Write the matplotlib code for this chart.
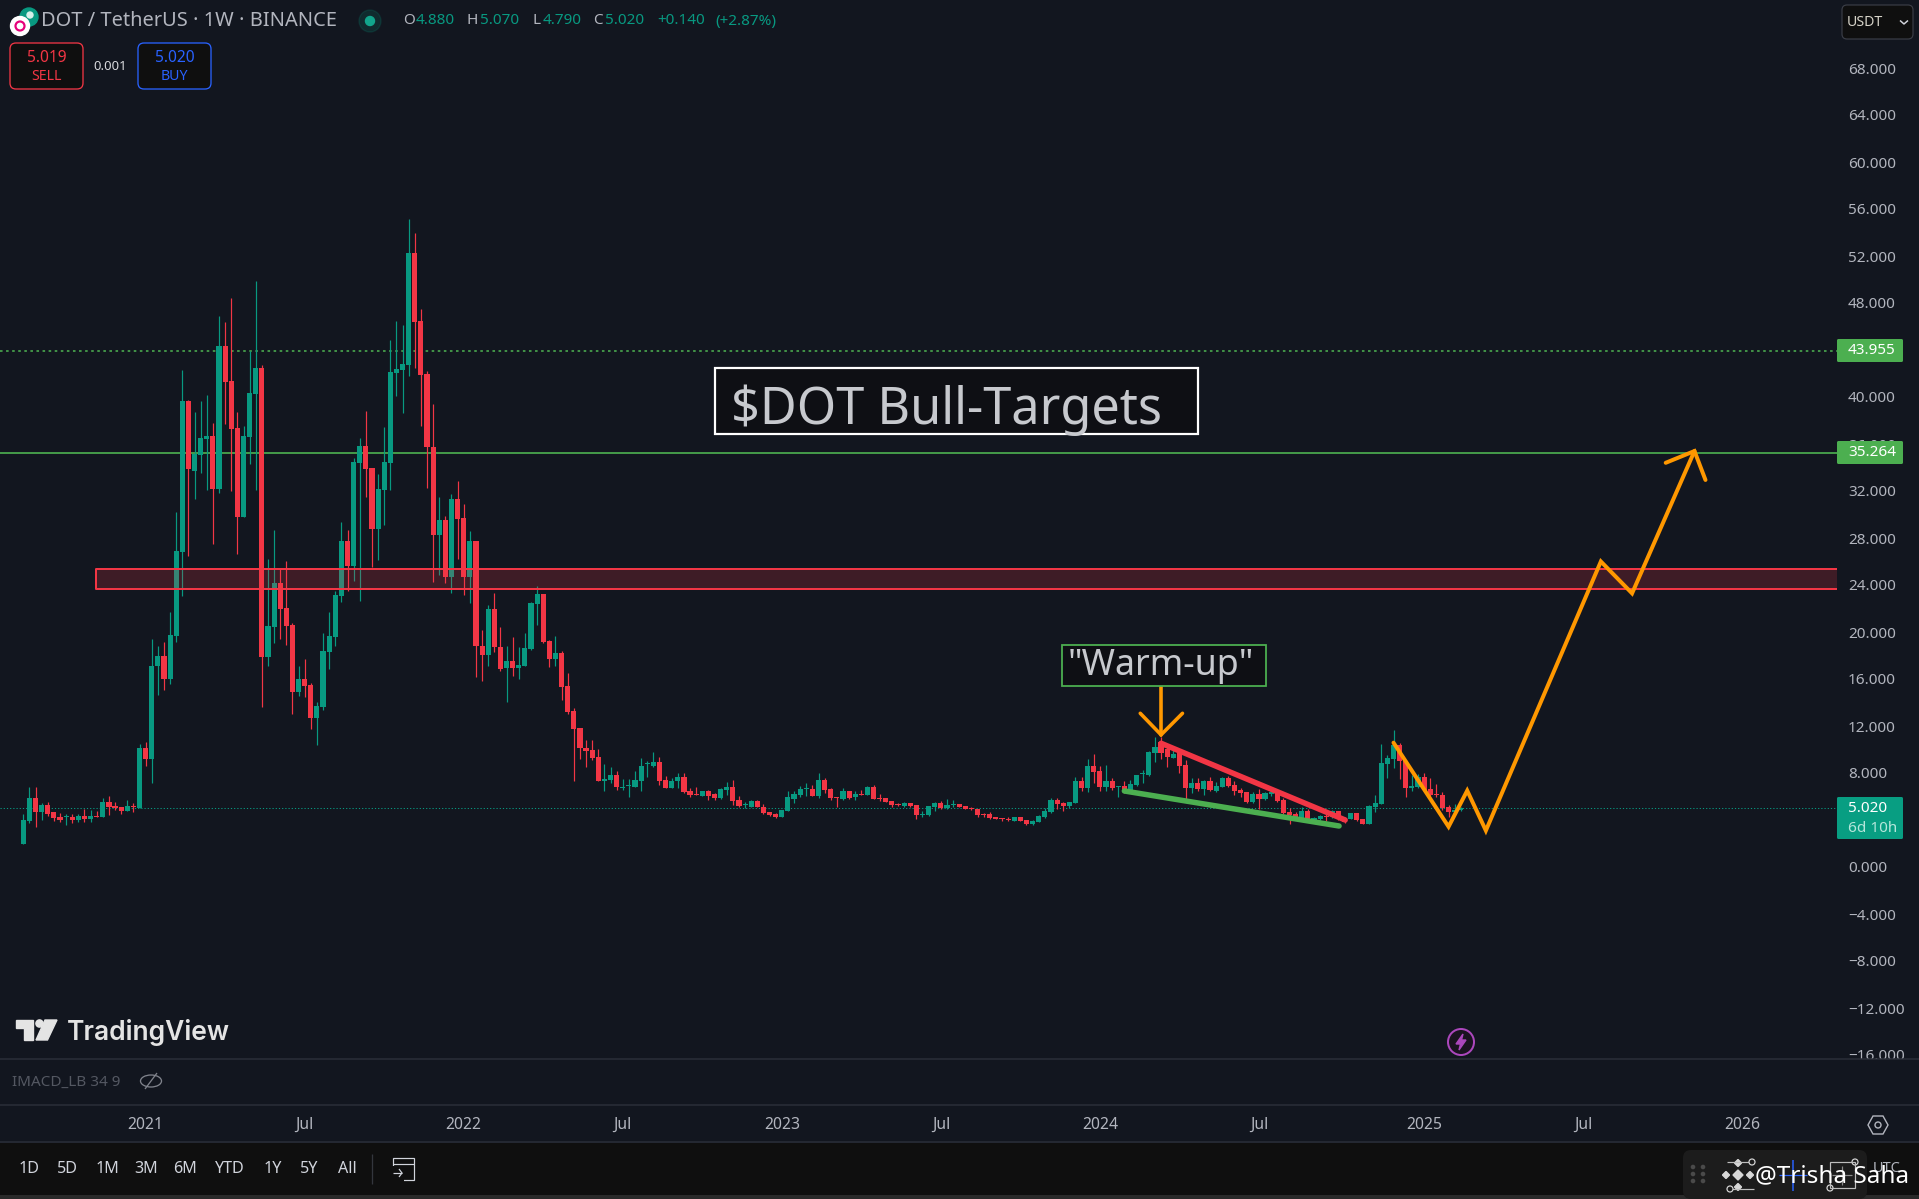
#!/usr/bin/env python3
"""Weekly DOT/USDT candles with drawn bull targets, TradingView dark look."""

import matplotlib
matplotlib.use("Agg")
import matplotlib.pyplot as plt
from matplotlib.patches import Circle, Ellipse, FancyBboxPatch, Polygon, Rectangle

W, H = 1919, 1199
PX = 0.72  # one pixel in points at dpi 100

BG = "#12161f"
BAR_BG = "#0f0f0f"
UP = "#089981"
DOWN = "#f23645"
GREEN = "#4caf50"
ORANGE = "#ff9800"
GREY = "#b2b5be"
DIVIDER = "#2a2e39"

# weekly candles
opens = [
    1.97, 3.90, 5.87, 4.72, 5.26, 4.65, 4.26, 4.22, 4.22, 4.01,
    4.33, 4.08, 4.37, 4.26, 5.55, 5.15, 5.12, 4.76, 5.19, 5.01,
    10.13, 9.20, 17.08, 17.98, 16.01, 19.66, 26.82, 39.65, 33.74, 35.06,
    36.42, 36.68, 32.16, 44.34, 41.37, 37.32, 29.80, 36.60, 40.26, 42.48,
    17.87, 20.45, 24.17, 22.06, 20.59, 14.86, 16.01, 15.51, 12.64, 13.61,
    18.30, 19.59, 23.10, 27.76, 25.61, 34.38, 35.85, 33.92, 28.76, 32.09,
    34.38, 42.05, 42.30, 42.73, 52.29, 46.49, 41.98, 35.74, 28.29, 29.55,
    24.71, 31.34, 29.73, 24.64, 27.76, 18.80, 18.05, 21.95, 18.73, 16.90,
    17.55, 16.94, 17.12, 18.55, 22.38, 23.24, 19.23, 17.73, 18.23, 15.40,
    13.28, 11.85, 10.13, 9.95, 9.38, 7.34, 7.41, 7.84, 6.73, 6.87,
    6.84, 7.32, 8.74, 8.59, 8.94, 7.40, 6.72, 7.32, 7.66, 6.50,
    6.18, 6.04, 6.50, 6.24, 5.84, 6.55, 6.84, 5.70, 5.28, 5.13,
    5.62, 5.11, 4.68, 4.51, 4.25, 4.77, 5.79, 6.10, 6.61, 6.64,
    6.01, 7.40, 6.64, 5.96, 5.76, 6.47, 5.93, 6.21, 6.13, 6.81,
    5.90, 5.87, 5.62, 5.36, 5.16, 5.47, 5.28, 4.45, 4.42, 5.11,
    5.45, 5.02, 5.28, 5.36, 5.19, 5.02, 4.91, 4.48, 4.51, 4.23,
    4.17, 4.08, 3.94, 4.23, 3.97, 3.66, 3.86, 4.25, 4.68, 5.67,
    5.44, 5.22, 5.47, 7.29, 6.72, 8.62, 8.17, 6.78, 7.32, 6.84,
    6.89, 6.55, 6.98, 7.89, 7.83, 9.70, 10.61, 10.04, 9.27, 9.67,
    8.68, 6.72, 7.15, 6.61, 7.32, 6.49, 6.84, 7.57, 6.98, 6.55,
    6.35, 5.50, 6.21, 5.79, 6.21, 6.35, 5.70, 4.68, 4.51, 4.20,
    4.79, 4.00, 4.08, 4.31, 4.23, 4.74, 4.14, 4.08, 4.57, 4.08,
    3.69, 5.11, 5.39, 8.76, 9.22, 10.38, 9.05, 6.69, 6.78, 7.63,
    6.64, 6.21, 6.13, 5.11, 4.72, 4.88,
]
highs = [
    4.54, 6.84, 6.84, 5.48, 5.55, 4.65, 4.62, 4.47, 4.47, 4.47,
    4.94, 4.83, 4.76, 5.91, 6.05, 5.55, 5.12, 5.69, 5.48, 10.49,
    10.67, 19.41, 18.80, 19.16, 21.74, 30.23, 42.33, 39.72, 38.75, 39.65,
    40.19, 37.79, 46.92, 46.38, 48.46, 38.75, 37.53, 43.95, 49.89, 42.73,
    26.22, 28.65, 25.36, 26.07, 20.77, 17.12, 17.73, 15.65, 14.07, 19.88,
    21.74, 23.46, 29.37, 28.69, 34.85, 36.53, 38.82, 33.92, 33.42, 37.43,
    44.84, 46.45, 46.10, 55.19, 53.98, 47.49, 42.19, 39.40, 31.48, 29.83,
    31.77, 32.88, 30.91, 28.58, 27.76, 20.16, 22.31, 23.28, 20.41, 18.80,
    19.59, 18.73, 19.88, 22.56, 23.92, 23.24, 19.30, 19.70, 18.37, 16.47,
    13.50, 11.85, 10.85, 10.81, 10.02, 8.77, 8.52, 8.16, 7.48, 7.45,
    8.13, 9.25, 9.02, 9.76, 9.39, 7.74, 7.55, 7.97, 8.03, 6.69,
    6.84, 6.50, 6.55, 6.30, 6.75, 7.26, 7.40, 6.04, 5.56, 5.70,
    5.70, 5.33, 4.68, 4.57, 4.85, 6.50, 6.47, 6.92, 7.18, 6.98,
    7.97, 7.60, 6.75, 5.96, 6.69, 6.47, 6.50, 6.55, 6.86, 6.98,
    6.21, 5.87, 5.62, 5.42, 5.53, 5.47, 5.28, 4.77, 5.19, 5.50,
    5.62, 5.79, 5.67, 5.36, 5.22, 5.11, 4.91, 4.57, 4.71, 4.25,
    4.17, 4.23, 4.25, 4.23, 4.00, 3.97, 4.42, 4.99, 5.90, 5.84,
    5.56, 5.56, 7.69, 7.69, 9.16, 9.62, 8.62, 8.65, 7.55, 6.89,
    7.32, 7.40, 7.83, 8.25, 9.90, 11.03, 11.09, 10.24, 9.96, 9.81,
    9.10, 7.55, 7.55, 7.40, 7.69, 7.26, 7.63, 7.74, 7.32, 6.75,
    6.41, 6.41, 6.61, 6.35, 6.49, 6.49, 5.84, 4.99, 4.71, 5.13,
    4.91, 4.28, 4.42, 4.48, 4.85, 4.79, 4.23, 4.62, 4.62, 4.11,
    5.28, 6.13, 10.44, 9.53, 11.66, 10.58, 9.10, 7.83, 7.91, 7.97,
    7.55, 7.06, 6.41, 5.28, 5.36, 5.07,
]
lows = [
    1.97, 3.76, 3.40, 4.04, 4.33, 3.90, 3.83, 3.58, 3.76, 3.83,
    3.83, 3.83, 4.29, 4.26, 4.40, 4.83, 4.47, 4.76, 4.65, 5.01,
    8.59, 7.16, 14.68, 15.04, 15.58, 19.16, 23.10, 26.50, 31.34, 33.49,
    32.05, 27.51, 31.80, 37.71, 31.98, 26.61, 29.80, 34.31, 32.05, 13.61,
    17.08, 19.09, 19.44, 18.87, 13.00, 14.57, 14.50, 11.71, 10.38, 13.32,
    16.83, 18.80, 22.56, 23.46, 24.35, 22.63, 31.45, 25.53, 26.14, 29.12,
    32.05, 40.08, 38.68, 41.80, 42.51, 37.50, 32.27, 24.28, 24.89, 24.17,
    23.35, 26.22, 23.17, 22.45, 16.19, 15.83, 17.12, 18.26, 16.65, 14.04,
    16.22, 16.01, 17.12, 18.44, 20.59, 19.09, 17.01, 17.12, 14.22, 13.00,
    7.34, 9.20, 8.48, 9.13, 7.34, 6.44, 7.19, 6.55, 6.55, 5.98,
    6.77, 6.47, 7.69, 8.54, 6.98, 6.72, 6.72, 6.69, 6.27, 5.93,
    6.13, 6.04, 5.70, 5.70, 5.79, 6.13, 5.28, 5.13, 4.99, 5.08,
    5.08, 4.48, 4.34, 4.14, 4.25, 4.77, 5.47, 5.93, 6.04, 6.04,
    5.90, 6.32, 5.70, 5.08, 5.70, 5.76, 5.70, 6.10, 6.13, 5.79,
    5.59, 5.53, 5.08, 5.19, 5.11, 5.13, 4.06, 4.25, 4.37, 4.77,
    4.96, 4.96, 5.08, 5.08, 4.94, 4.88, 4.25, 4.28, 4.11, 4.06,
    3.91, 3.91, 3.91, 3.91, 3.55, 3.60, 3.80, 4.20, 4.62, 4.96,
    4.76, 4.99, 5.47, 6.49, 6.38, 7.12, 6.47, 6.47, 6.55, 5.93,
    6.32, 6.49, 6.92, 7.12, 7.77, 8.96, 9.16, 8.54, 9.25, 8.03,
    5.76, 6.27, 6.49, 6.13, 6.49, 6.41, 6.78, 6.84, 6.13, 5.98,
    5.47, 5.42, 4.94, 5.70, 6.04, 5.56, 4.51, 3.63, 4.00, 4.08,
    3.94, 3.94, 4.00, 3.91, 4.14, 4.00, 3.77, 4.06, 3.89, 3.66,
    3.66, 4.68, 5.36, 7.55, 8.40, 7.52, 5.98, 6.49, 6.69, 6.49,
    6.07, 5.98, 4.85, 4.28, 4.62, 4.79,
]
closes = [
    4.01, 5.87, 4.72, 5.26, 4.47, 4.19, 4.04, 4.29, 3.97, 4.37,
    4.08, 4.37, 4.29, 5.55, 5.12, 5.05, 4.76, 5.19, 5.08, 10.13,
    9.20, 17.12, 17.98, 16.01, 19.77, 26.90, 39.65, 33.85, 35.17, 36.53,
    36.68, 32.16, 44.34, 41.30, 37.28, 29.80, 36.68, 40.33, 42.48, 17.87,
    20.52, 24.17, 21.95, 20.52, 14.93, 16.01, 15.40, 12.64, 13.71, 18.37,
    19.66, 23.17, 27.76, 25.64, 34.49, 35.85, 33.85, 28.76, 32.16, 34.49,
    42.16, 42.37, 42.80, 52.29, 46.38, 41.90, 35.74, 28.29, 29.55, 24.71,
    31.34, 29.65, 24.64, 27.76, 18.77, 18.05, 21.95, 18.69, 16.87, 17.55,
    16.94, 17.19, 18.66, 22.49, 23.24, 19.16, 17.73, 18.23, 15.33, 13.21,
    11.74, 10.10, 9.88, 9.24, 7.34, 7.48, 7.84, 6.77, 6.80, 6.94,
    7.41, 8.59, 8.79, 8.94, 7.32, 6.72, 7.32, 7.66, 6.35, 6.13,
    6.13, 6.50, 6.04, 5.84, 6.64, 6.84, 5.59, 5.19, 5.33, 5.64,
    5.11, 4.59, 4.40, 4.23, 4.85, 5.96, 6.21, 6.64, 6.67, 6.04,
    7.40, 6.55, 5.84, 5.90, 6.50, 5.90, 6.21, 6.16, 6.81, 5.79,
    5.81, 5.53, 5.28, 5.28, 5.45, 5.19, 4.40, 4.51, 5.16, 5.45,
    5.02, 5.28, 5.33, 5.11, 4.96, 4.96, 4.40, 4.40, 4.17, 4.11,
    4.08, 4.03, 4.23, 3.94, 3.63, 3.91, 4.37, 4.76, 5.70, 5.36,
    5.19, 5.56, 7.32, 6.72, 8.62, 8.05, 6.78, 7.32, 6.69, 6.89,
    6.55, 7.09, 7.83, 7.94, 9.79, 10.24, 9.70, 9.33, 9.64, 8.59,
    6.72, 7.15, 6.64, 7.32, 6.55, 6.89, 7.57, 6.89, 6.47, 6.27,
    5.50, 6.21, 5.76, 6.30, 6.38, 5.62, 4.57, 4.42, 4.23, 4.76,
    4.00, 4.14, 4.31, 4.23, 4.74, 4.11, 3.83, 4.57, 4.00, 3.69,
    5.19, 5.44, 8.82, 9.27, 10.38, 9.00, 6.72, 6.92, 7.63, 6.55,
    6.13, 6.13, 4.99, 4.68, 4.79, 5.02,
]

price_ticks = list(range(68, -20, -4))
price_labels = [f"{p:.3f}".replace("-", "\u2212") for p in price_ticks]
time_ticks = [20, 46, 72, 98, 124, 150, 176, 202, 229, 255, 281]
time_labels = ["2021", "Jul", "2022", "Jul", "2023", "Jul", "2024", "Jul", "2025", "Jul", "2026"]

TARGET_DOTTED = 43.955
TARGET_SOLID = 35.264
LAST_PRICE = 5.020
zone_low, zone_high = 23.65, 25.38
zone_start = 11.9

# drawings, x in weeks from the first candle, y in price
warm_x = [186, 186]
warm_y = [15.4, 11.25]
warm_head_x = [182.6, 186, 189.5]
warm_head_y = [13.08, 11.25, 13.08]
red_trend_x = [186, 216.1]
red_trend_y = [10.53, 4.0]
green_trend_x = [180, 215.1]
green_trend_y = [6.47, 3.49]
path_x = [224, 233, 236.05, 239.1, 257.9, 263, 273.2]
path_y = [10.58, 3.43, 6.5, 3.1, 26.0, 23.29, 35.4]
path_head_x = [268.5, 273.2, 275]
path_head_y = [34.4, 35.4, 32.94]

plt.rcParams["font.family"] = ["Noto Sans", "DejaVu Sans"]

fig = plt.figure(figsize=(W / 100, H / 100), dpi=100, facecolor=BG)

# main pane, scale chosen so the ticks land where the screenshot has them
PANE_R, PANE_B = 1837, 1059
ax = fig.add_axes([0, 1 - PANE_B / H, PANE_R / W, PANE_B / H], facecolor=BG)
step = 6.117
ax.set_xlim(-23.3 / step, (PANE_R - 23.3) / step)
ax.set_ylim(68 - (PANE_B - 68) / 11.75, 68 + 68 / 11.75)
for s in ax.spines.values():
    s.set_visible(False)

ax.yaxis.tick_right()
ax.set_yticks(price_ticks)
ax.set_yticklabels(price_labels, fontsize=11, color=GREY)
ax.tick_params(axis="y", length=0, pad=11 * PX)
ax.set_xticks(time_ticks)
ax.set_xticklabels(time_labels, fontsize=11.3, color=GREY)
ax.tick_params(axis="x", length=0, pad=58 * PX)
for lab in ax.get_xticklabels():
    if lab.get_text() != "Jul":
        lab.set_fontweight("bold")

xs = list(range(len(opens)))
colors = [UP if c >= o else DOWN for o, c in zip(opens, closes)]
ax.vlines(xs, lows, highs, colors=colors, linewidth=1.2 * PX, zorder=3)
bottoms = [min(o, c) for o, c in zip(opens, closes)]
heights = [max(abs(c - o), 0.09) for o, c in zip(opens, closes)]
ax.bar(xs, heights, bottom=bottoms, width=0.84, color=colors, linewidth=0, zorder=4)

ax.axhline(TARGET_DOTTED, color=GREEN, linewidth=1.6 * PX, linestyle=(0, (1.6, 2.2)), zorder=2)
ax.axhline(TARGET_SOLID, color=GREEN, linewidth=1.7 * PX, zorder=2)
ax.axhline(LAST_PRICE, color=UP, linewidth=1 * PX, linestyle=(0, (1.2, 2)), zorder=2)
ax.add_patch(Rectangle((zone_start, zone_low), 400, zone_high - zone_low, facecolor=DOWN, alpha=0.2,
                       linewidth=0, zorder=5))
ax.plot([ax.get_xlim()[1], zone_start, zone_start, ax.get_xlim()[1]],
        [zone_high, zone_high, zone_low, zone_low], color=DOWN, linewidth=2 * PX, zorder=5)

thick = dict(solid_capstyle="round", solid_joinstyle="miter", zorder=6)
ax.plot(green_trend_x, green_trend_y, color=GREEN, linewidth=5.5 * PX, **thick)
ax.plot(red_trend_x, red_trend_y, color=DOWN, linewidth=5.5 * PX, **thick)
ax.plot(warm_x, warm_y, color=ORANGE, linewidth=3.6 * PX, **thick)
ax.plot(warm_head_x, warm_head_y, color=ORANGE, linewidth=3.6 * PX, **thick)
ax.plot(path_x, path_y, color=ORANGE, linewidth=4 * PX, **thick)
ax.plot(path_head_x, path_head_y, color=ORANGE, linewidth=4 * PX, **thick)

# everything around the chart is laid out in screen pixels
ui = fig.add_axes([0, 0, 1, 1], zorder=10)
ui.set_xlim(0, W)
ui.set_ylim(H, 0)
ui.axis("off")
ui.patch.set_alpha(0)


def box(x0, y0, x1, y1, face, edge="none", lw=0, radius=0, z=1):
    if radius:
        p = FancyBboxPatch((x0, y0), x1 - x0, y1 - y0, boxstyle=f"round,pad=0,rounding_size={radius}",
                           facecolor=face, edgecolor=edge, linewidth=lw * PX, zorder=z)
    else:
        p = Rectangle((x0, y0), x1 - x0, y1 - y0, facecolor=face, edgecolor=edge, linewidth=lw * PX, zorder=z)
    ui.add_patch(p)


def label(x, y, s, size, color=GREY, ha="left", weight="normal", z=5):
    ui.text(x, y, s, fontsize=size, color=color, ha=ha, va="center", fontweight=weight, zorder=z)


def seg(xs_, ys_, color=GREY, lw=1.5, z=4):
    ui.plot(xs_, ys_, color=color, linewidth=lw * PX, zorder=z, solid_capstyle="butt")


# panes under the chart; the time labels have to stay visible
box(0, PANE_B, W, 1105, BG)
box(PANE_R + 1, 1059, W, 1105, BG)
box(0, 1143, W, 1195, BAR_BG)
box(0, 1195, W, H, "#2a2a2a")
for y in (1059, 1105, 1142):
    seg([0, W], [y, y], DIVIDER, 1.5, z=2)

# header
ui.add_patch(Circle((29, 17), 9, color=UP, zorder=3))
ui.add_patch(Circle((30, 15), 3, color="#d7f0ea", zorder=3))
ui.add_patch(Circle((20, 26), 9.5, color="white", zorder=4))
ui.add_patch(Circle((20, 26), 4.5, facecolor="none", edgecolor="#e6007a", linewidth=2.2 * PX, zorder=4))
label(41, 21, "DOT / TetherUS \u00b7 1W \u00b7 BINANCE", 14.4)
ui.add_patch(Circle((370, 21), 11, color=UP, alpha=0.16, zorder=3))
ui.add_patch(Circle((370, 21), 4.5, color="#12a58c", zorder=4))
for x, s, c in [(403, "O", GREY), (416, "4.880", UP), (467, "H", GREY), (480, "5.070", UP),
                (532, "L", GREY), (543, "4.790", UP), (593, "C", GREY), (605, "5.020", UP),
                (657, "+0.140", UP), (715, "(+2.87%)", UP)]:
    label(x, 21, s, 11, c)

box(10, 43, 83, 89, BAR_BG, "#f23645", 1.3, radius=6)
label(46.5, 58, "5.019", 11.2, "#f23645", ha="center", weight="bold")
label(46.5, 77, "SELL", 10.2, "#f23645", ha="center")
label(110, 66, "0.001", 9.4, "#d8d9dd", ha="center")
box(138, 43, 211, 89, BAR_BG, "#2962ff", 1.3, radius=6)
label(174.5, 58, "5.020", 11.2, "#2962ff", ha="center", weight="bold")
label(174.5, 77, "BUY", 10.2, "#2962ff", ha="center")

box(1842, 5, 1913, 39, BAR_BG, "#3a3d46", 1.2, radius=5)
label(1847, 22, "USDT", 10.2, "#d6d3c8")
seg([1900, 1904, 1908], [20.5, 24, 20.5], "#d1d4dc", 1.5)

# price badges
box(PANE_R, 339, 1903, 362, GREEN, radius=1.5)
label(1848, 351, "43.955", 11, "white")
box(PANE_R, 441, 1903, 464, GREEN, radius=1.5)
label(1848, 453, "35.264", 11, "white")
box(PANE_R, 797, 1903, 839, "#089e82", radius=1.5)
label(1848, 809, "5.020", 11, "white")
label(1848, 829, "6d 10h", 11, "#b5e6db")

# text boxes on the chart
box(715, 368, 1198, 434, "#0e0f14", "white", 2.2)
label(731, 410, "$DOT Bull-Targets", 36.3, "#c7c9ce")
box(1062, 645, 1266, 686, "#0e0f14", GREEN, 1.8)
label(1068, 666, '"Warm-up"', 25.8, "#c7c9ce")

# TradingView mark
for pts in ([(16, 1020), (33, 1020), (33, 1040), (24, 1040), (24, 1028), (16, 1028)],
            [(45, 1020), (57, 1020), (47.5, 1040), (36, 1040)]):
    ui.add_patch(Polygon(pts, color="#e4e4e4", zorder=4))
ui.add_patch(Circle((39.5, 1023.5), 3.6, color="#e4e4e4", zorder=4))
ui.text(67, 1032, "TradingView", fontsize=19, color="#e4e4e4", fontweight="semibold", family="Inter",
        va="center", zorder=5)

# collapsed indicator
label(12, 1082, "IMACD_LB 34 9", 11, "#545862")
ui.add_patch(Ellipse((151, 1081), 21, 12, facecolor="none", edgecolor="#80838c", linewidth=1.3 * PX, zorder=4))
seg([145, 157], [1089, 1073], "#80838c", 1.3)

# alert icon
ui.add_patch(Circle((1461, 1042), 13, facecolor="#1a1320", edgecolor="#ab47bc", linewidth=2 * PX, zorder=4))
ui.add_patch(Polygon([(1463, 1034), (1456, 1044), (1460.5, 1044), (1459, 1050), (1466, 1040), (1461.5, 1040)],
                     color="#ab47bc", zorder=5))

# settings gear in the time scale
ui.add_patch(Polygon([(1868, 1125), (1873, 1116), (1883, 1116), (1888, 1125), (1883, 1134), (1873, 1134)],
                     facecolor="none", edgecolor=GREY, linewidth=1.4 * PX, zorder=4))
ui.add_patch(Circle((1878, 1125), 3, facecolor="none", edgecolor=GREY, linewidth=1.4 * PX, zorder=4))

# range buttons
for x, s in [(29, "1D"), (67, "5D"), (107, "1M"), (146, "3M"), (185, "6M"), (230, "YTD"), (273, "1Y"),
             (309, "5Y"), (347, "All")]:
    label(x, 1169, s, 11.6, "#d1d4dc", ha="center")
seg([372, 372], [1154, 1184], "#33363d", 1.3)
box(393, 1158, 414, 1180, "none", "#d1d4dc", 1.2)
box(391, 1166, 404, 1184, BAR_BG, z=2)
seg([393, 414], [1164, 1164], "#d1d4dc", 1.2)
seg([393, 402], [1173, 1173], "#d1d4dc", 1.2)
seg([399, 402, 399], [1169, 1173, 1177], "#d1d4dc", 1.2)

# floating drawing toolbar and watermark
label(1873, 1168, "UTC", 10.5, GREY, z=3)
box(1683, 1150, 1867, 1199, "#1c1c1c", radius=8, z=3)
for gx in (1693, 1703):
    for gy in (1167, 1174, 1181):
        ui.add_patch(Circle((gx, gy), 1.6, color="#4a4a4a", zorder=4))
for cx, cy, r in [(1738, 1175, 5), (1726, 1175, 3.5), (1750, 1175, 3.5), (1738, 1163, 3.5), (1738, 1187, 3.5)]:
    ui.add_patch(Polygon([(cx - r, cy), (cx, cy - r), (cx + r, cy), (cx, cy + r)], color="#d8d8d8", zorder=4))
seg([1727, 1749], [1162, 1162], "#bdbdbd", 1.2)
seg([1731, 1754], [1189, 1189], "#bdbdbd", 1.2)
for cx, cy in [(1752, 1162), (1730, 1189), (1855, 1162), (1830, 1188)]:
    ui.add_patch(Circle((cx, cy), 3, facecolor="#1c1c1c", edgecolor="#d8d8d8", linewidth=1.2 * PX, zorder=4))
seg([1793, 1793], [1160, 1191], "#2962ff", 1.5)
seg([1779, 1807], [1175, 1175], "#2962ff", 1.2)
box(1830, 1162, 1855, 1188, "none", "#bdbdbd", 1.2, z=4)
seg([1842, 1842], [1166, 1185], "#8a8a8a", 1.2)
seg([1832, 1852], [1175, 1175], "#8a8a8a", 1.2)
label(1755, 1176, "@Trisha Saha", 17.5, "white", z=6)

fig.savefig("out.png", dpi=100, facecolor=BG)
plt.close(fig)
